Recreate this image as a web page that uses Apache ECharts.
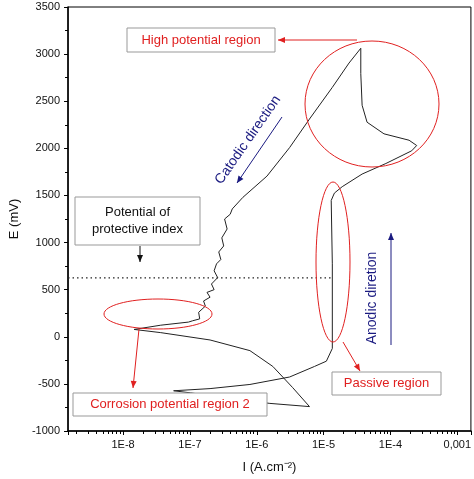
<!DOCTYPE html>
<html><head><meta charset="utf-8">
<script src="https://cdn.jsdelivr.net/npm/echarts@6/dist/echarts.min.js"></script>
<style>html,body{margin:0;padding:0;background:#fff}#c{width:474px;height:479px}</style>
</head><body><div id="c"></div>
<script>
const currentA = [5.7e-8,2.0e-7,7.9e-7,3.1e-6,7.3e-6,1.1e-5,1.35e-5,1.35e-5,1.3e-5,1.45e-5,1.9e-5,3.77e-5,8.55e-5,2.08e-4,2.47e-4,1.9e-4,8.0e-5,4.47e-5,3.77e-5,3.6e-5,3.6e-5,
  2.4e-5,1.35e-5,6.15e-6,3.1e-6,1.42e-6,6.2e-7,4.3e-7,4.0e-7,3.3e-7,3.6e-7,3.0e-7,3.2e-7,2.7e-7,2.9e-7,2.5e-7,2.3e-7,2.6e-7,2.1e-7,2.3e-7,1.8e-7,2.0e-7,1.6e-7,1.7e-7,1.35e-7,1.4e-7,1.1e-7,9.5e-8,3.66e-8,1.46e-8,
  3.66e-8,2.0e-7,7.9e-7,1.74e-6,3.44e-6,6.15e-6,1.57e-6,3.6e-7,1.02e-7,5.7e-8];
const potentialA = [-573,-550,-506,-427,-315,-259,-124,774,1447,1525,1593,1727,1839,1974,2030,2086,2154,2277,2457,2793,3062,
  2905,2647,2311,2008,1705,1480,1357,1300,1250,1144,1050,964,900,820,774,700,628,560,500,471,420,380,325,260,190,170,156,123,78,
  44,-34,-147,-315,-539,-741,-707,-651,-595,-573];
const protectiveX = [1.5e-9, 1.35e-5];
const protectiveE = [625, 625];
const xTicks = {'-8':'1E-8','-7':'1E-7','-6':'1E-6','-5':'1E-5','-4':'1E-4','-3':'0,001'};

const curve = currentA.map((v,i)=>[v,potentialA[i]]);
const prot = protectiveX.map((v,i)=>[v,protectiveE[i]]);
const F = 'Liberation Sans, Arial, sans-serif';
const red = '#e02020', blue='#1a1a80';
function box(x,y,w,h,lines,color){
  const els=[{type:'rect',shape:{x:x,y:y,width:w,height:h},style:{fill:'#fff',stroke:'#999',lineWidth:1},z:10}];
  els.push({type:'text',x:x+w/2,y:y+h/2,style:{text:lines,fill:color,font:'13px '+F,align:'center',verticalAlign:'middle',lineHeight:17},z:11});
  return els;
}
function arrow(x1,y1,x2,y2,color){
  const a=Math.atan2(y2-y1,x2-x1),L=7,W=3;
  return [{type:'line',shape:{x1:x1,y1:y1,x2:x2,y2:y2},style:{stroke:color,lineWidth:1},z:12},
    {type:'polygon',shape:{points:[[x2,y2],[x2-L*Math.cos(a)+W*Math.sin(a),y2-L*Math.sin(a)-W*Math.cos(a)],[x2-L*Math.cos(a)-W*Math.sin(a),y2-L*Math.sin(a)+W*Math.cos(a)]]},style:{fill:color},z:12}];
}
function ell(cx,cy,rx,ry){return {type:'ellipse',shape:{cx:cx,cy:cy,rx:rx,ry:ry},style:{fill:null,stroke:red,lineWidth:1},z:9};}
const g = [].concat(
  ell(372,104,67,63), ell(333,262,17,80), ell(158,314,54,15),
  box(127,28,148,24,'High potential region',red), arrow(357,40,278,40,red),
  box(75,197,125,48,'Potential of\nprotective index','#111'), arrow(140,246,140,262,'#111'),
  box(73,393,194,23,'Corrosion potential region 2',red), arrow(139,329,133,388,red),
  box(332,372,109,23,'Passive region',red), arrow(343,342,360,371,red),
  [{type:'text',x:248,y:140,rotation:Math.atan2(66,46),style:{text:'Catodic direction',fill:blue,font:'14px '+F,align:'center',verticalAlign:'middle'},z:11}],
  arrow(282,117,237,183,blue),
  [{type:'text',x:372,y:298,rotation:Math.PI/2,style:{text:'Anodic diretion',fill:blue,font:'14px '+F,align:'center',verticalAlign:'middle'},z:11}],
  arrow(391,345,391,233,blue)
);
const chart = echarts.init(document.getElementById('c'),null,{renderer:'canvas'});
chart.setOption({
  animation:false,
  grid:{left:67,right:2,top:7,bottom:48,show:true,borderColor:'#000',borderWidth:1},
  xAxis:{type:'log',logBase:10,min:1.5e-9,max:1.6e-3,
    name:'I (A.cm⁻²)',nameLocation:'middle',nameGap:30,nameTextStyle:{fontSize:13,fontFamily:F,color:'#111'},
    axisLine:{onZero:false,lineStyle:{color:'#000',width:1.5}},axisTick:{lineStyle:{color:'#000'},length:4},
    minorTick:{show:true,splitNumber:9,length:3,lineStyle:{color:'#000'}},
    splitLine:{show:false},
    axisLabel:{fontSize:11,fontFamily:F,color:'#111',showMinLabel:false,showMaxLabel:false,
      formatter:v=>{const e=Math.round(Math.log10(v));return Math.abs(Math.log10(v)-e)<1e-6&&xTicks[e]?xTicks[e]:'';}}},
  yAxis:{type:'value',min:-1000,max:3500,interval:500,
    name:'E (mV)',nameLocation:'middle',nameGap:45,nameTextStyle:{fontSize:13,fontFamily:F,color:'#111'},
    axisLine:{show:true,onZero:false,lineStyle:{color:'#000',width:1.5}},axisTick:{show:true,length:4,lineStyle:{color:'#000'}},
    minorTick:{show:true,splitNumber:2,length:3,lineStyle:{color:'#000'}},
    splitLine:{show:false},axisLabel:{fontSize:11,fontFamily:F,color:'#111',formatter:v=>String(v)}},
  series:[
    {type:'line',data:curve,showSymbol:false,lineStyle:{color:'#222',width:1},z:5},
    {type:'line',data:prot,showSymbol:false,lineStyle:{color:'#222',width:1.2,type:[1.5,3]},z:4}
  ],
  graphic:g
});
</script></body></html>
